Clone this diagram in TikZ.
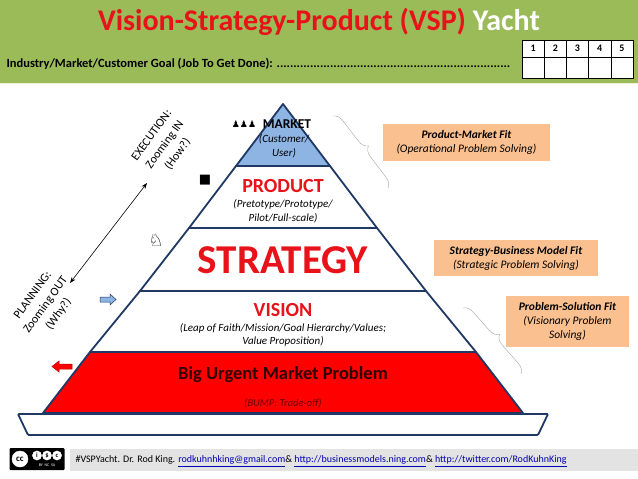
\documentclass[tikz,border=0pt]{standalone}
\usepackage{fontspec}
\setmainfont{Carlito}
\newfontfamily\djv{DejaVu Sans}
\usetikzlibrary{decorations.pathreplacing,arrows.meta}
\definecolor{hdr}{HTML}{9BBB59}
\definecolor{navy}{HTML}{1F3864}
\definecolor{tred}{HTML}{E8131A}
\definecolor{orng}{HTML}{FAC090}
\definecolor{sky}{HTML}{8EB4E3}
\tikzset{
  band/.style={draw=navy,line width=1.8pt,line join=round},
  fitbox/.style={fill=orng,align=center,font=\fontsize{11.5}{14}\selectfont\itshape,inner sep=3pt},
  sub/.style={align=center,font=\fontsize{11}{13.5}\selectfont\itshape},
  side/.style={align=center,font=\fontsize{12}{16}\selectfont,rotate=54},
  brc/.style={draw=gray!70,thin,decorate,decoration={brace,amplitude=10pt}},
}
\begin{document}
\begin{tikzpicture}[x=1pt,y=-1pt]
\useasboundingbox (0,0) rectangle (638,479);
\fill[white] (0,0) rectangle (638,479);
% header
\fill[hdr] (0,0) rectangle (638,83);
\draw[white!80!hdr,line width=1pt] (0,83) -- (638,83);
\node (title) at (319,22) {\fontsize{30}{34}\selectfont\bfseries\color{tred}Vision-Strategy-Product (VSP) \color{white}Yacht};
\node[anchor=west] (goal) at (3,64) {\fontsize{12.5}{14}\selectfont\bfseries Industry/Market/Customer Goal (Job To Get Done): \makebox[236pt]{\leaders\hbox{.}\hfill}};
\fill[white] (522,40) rectangle (633,78);
\draw[black,line width=0.6pt] (522,40) rectangle (633,78) (522,57)--(633,57);
\foreach \i in {1,...,4}{\draw[line width=0.6pt] (522+22.2*\i,40)--(522+22.2*\i,78);}
\foreach \i in {1,...,5}{\node[font=\fontsize{10}{10}\selectfont\bfseries] (c\i) at (522+22.2*\i-11.1,48.5) {\i};}
% yacht base
\draw[navy,line width=1.8pt,fill=white,rounded corners=1pt] (18,414) -- (548,414) -- (538,435) -- (28,435) -- cycle;
% pyramid
\draw[band,fill=red] (90,352) -- (476,352) -- (523,413) -- (43,413) -- cycle;
\draw[band,fill=white] (140,291) -- (426,291) -- (476,352) -- (90,352) -- cycle;
\draw[band,fill=white] (189,228) -- (377,228) -- (426,291) -- (140,291) -- cycle;
\draw[band,fill=white] (236,166) -- (330,166) -- (377,228) -- (189,228) -- cycle;
\draw[band,fill=sky] (283,104) -- (330,166) -- (236,166) -- cycle;
% texts
\node (market) at (287,124) {\fontsize{13.5}{15}\selectfont\bfseries MARKET};
\node[sub] (cust) at (284,146) {(Customer/\\User)};
\node (product) at (283,186) {\fontsize{20}{24}\selectfont\bfseries\color{tred}PRODUCT};
\node[sub] (ptype) at (283,211) {(Pretotype/Prototype/\\Pilot/Full-scale)};
\node (strategy) at (283,260) {\fontsize{41}{46}\selectfont\bfseries\color{tred}STRATEGY};
\node (vision) at (283,310) {\fontsize{20}{24}\selectfont\bfseries\color{tred}VISION};
\node[sub] (leap) at (283,335) {(Leap of Faith/Mission/Goal Hierarchy/Values;\\Value Proposition)};
\node (bump) at (283,375) {\fontsize{18.5}{22}\selectfont\bfseries\color{black!80!red}Big Urgent Market Problem};
\node (tradeoff) at (283,403) {\fontsize{10.5}{12}\selectfont\itshape\color{black!60!red}(BUMP: Trade-off)};
% icons
\node[font=\djv\fontsize{9}{9}\selectfont,inner sep=0pt] (ppl) at (244,124) {\char"265F\char"265F\char"265F};
\node[font=\djv\fontsize{13}{13}\selectfont] (gift) at (205,180) {\char"25A0};
\node[font=\djv\fontsize{17}{17}\selectfont] (knight) at (156,240) {\char"2658};
\draw[navy,fill=sky,line width=0.5pt] (100,297)--(110,297)--(110,294)--(116,299.5)--(110,305)--(110,302)--(100,302)--cycle;
\draw[red!70!black,fill=red,line width=0.5pt] (72,364)--(59,364)--(59,361)--(52,366.5)--(59,372)--(59,369)--(72,369)--cycle;
% side labels
\node[side] (exec) at (165,145) {EXECUTION:\\Zooming IN\\(How?)};
\node[side] (plan) at (46,305) {PLANNING:\\Zooming OUT\\(Why?)};
\coordinate (a1) at (70,283);
\coordinate (a2) at (147,183);
\draw[{Stealth[length=6pt]}-{Stealth[length=6pt]},line width=0.6pt] (a1) -- (a2);
% fit boxes
\node[fitbox,minimum width=167pt,minimum height=37pt] (pmf) at (466.5,142.5) {\textbf{Product-Market Fit}\\(Operational Problem Solving)};
\node[fitbox,minimum width=164pt,minimum height=36pt] (sbm) at (516,258) {\textbf{Strategy-Business Model Fit}\\(Strategic Problem Solving)};
\node[fitbox,minimum width=123pt,minimum height=51pt] (psf) at (567.5,321.5) {\textbf{Problem-Solution Fit}\\(Visionary Problem\\Solving)};
\coordinate (b1) at (333,116);
\coordinate (b2) at (388,188);
\coordinate (b3) at (463,308);
\coordinate (b4) at (521,374);
\draw[brc] (b1) -- (b2);
\draw[brc] (b3) -- (b4);
% footer
\fill[gray!22] (70,449) rectangle (638,471);
\node[fill=black,rounded corners=1pt,minimum width=55pt,minimum height=22pt] (cc) at (37,459) {};
\draw[white,fill=white] (20,459) circle (8pt);
\node[font=\fontsize{9}{9}\selectfont\bfseries] (cct) at (20,459) {cc};
\foreach \xx/\s in {37/i,47/\$,57/c}{\draw[white,fill=white] (\xx,455.5) circle (4.6pt);
  \node[font=\fontsize{6.5}{6.5}\selectfont\bfseries,inner sep=0pt] at (\xx,455.5) {\s};}
\node[font=\fontsize{4}{4}\selectfont,text=white] (ccl) at (47,465.5) {BY\ \ NC\ \ SA};
\node[anchor=west,font=\fontsize{10}{11}\selectfont] (foot) at (72,461) {\#VSPYacht. Dr. Rod King. \color{blue!70!black}\underline{rodkuhnhking@gmail.com}\color{black} \& \color{blue!70!black}\underline{http://businessmodels.ning.com}\color{black} \& \color{blue!70!black}\underline{http://twitter.com/RodKuhnKing}};
\end{tikzpicture}
\end{document}
